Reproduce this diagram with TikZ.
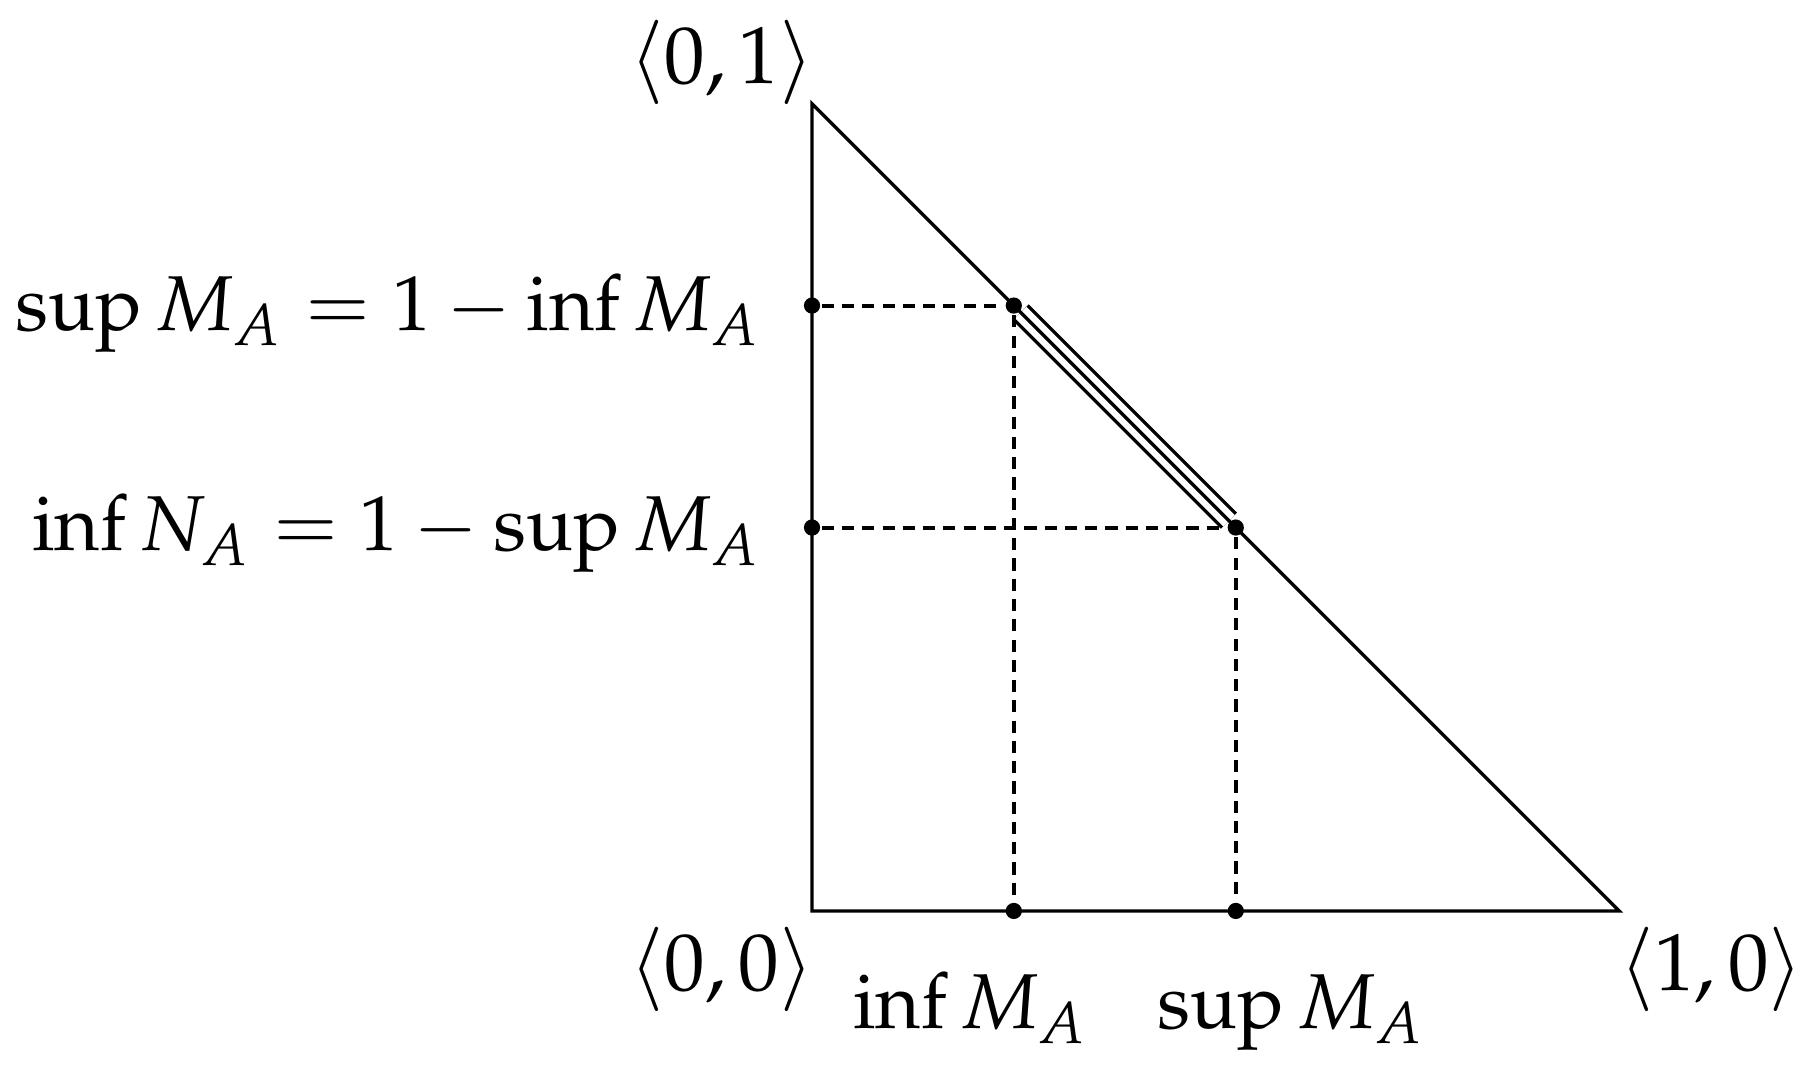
\documentclass[tikz,border=0pt]{standalone}
\usepackage{amsmath}
\usepackage{mathpazo}
\usepackage{tikz}
\usetikzlibrary{positioning}
\tikzset{
  Punkt/.style={circle,fill,inner sep=0pt,minimum size=2pt}, % Markierungen
  Hilfslinie/.style={dash pattern=on 1.5pt off 1pt,line width=0.5pt}, % gestrichelt
  Beschriftung/.style={inner sep=0pt,anchor=base}, % Texte
  Formel/.style={Beschriftung,font=\fontsize{9.6pt}{11pt}\selectfont} % Formeln
}

\begin{document}
\begin{tikzpicture}[line width=0.4pt]
\useasboundingbox (-3.521,-0.676) rectangle (4.323,3.950);

%Eckpunkte
\coordinate (O) at (0,0);
\coordinate (X) at (3.5,0);
\coordinate (Y) at (0,3.5);

%Punkte
\node[Punkt] (P1) at (0.875,2.625) {};
\node[Punkt] (P2) at (1.8375,1.6625) {};
\node[Punkt] (Y1) at (0,2.625) {};
\node[Punkt] (Y2) at (0,1.6625) {};
\node[Punkt] (X1) at (0.875,0) {};
\node[Punkt] (X2) at (1.8375,0) {};

%Doppellinie
\draw[double,double distance=2pt] (P1) -- (P2);

%Dreieck
\draw (O) -- (X) -- (Y) -- cycle;

%Hilfslinien
\draw[Hilfslinie] (Y1) -- (P1) -- (X1);
\draw[Hilfslinie] (Y2) -- (P2) -- (X2);

%Beschriftungen
\node[Beschriftung] (L01) at (-0.39,3.59) {$\langle 0,1\rangle$};
\node[Beschriftung] (L00) at (-0.39,-0.343) {$\langle 0,0\rangle$};
\node[Beschriftung] (L10) at (3.90,-0.343) {$\langle 1,0\rangle$};
\node[Formel] (LinfM) at (0.69,-0.51) {$\inf M_A$};
\node[Formel] (LsupM) at (2.08,-0.51) {$\sup M_A$};
\node[Formel,anchor=base east] (LY1) at (-0.208,2.515) {$\sup M_A=1-\inf M_A$};
\node[Formel,anchor=base east] (LY2) at (-0.208,1.561) {$\inf N_A=1-\sup M_A$};

\end{tikzpicture}
\end{document}
